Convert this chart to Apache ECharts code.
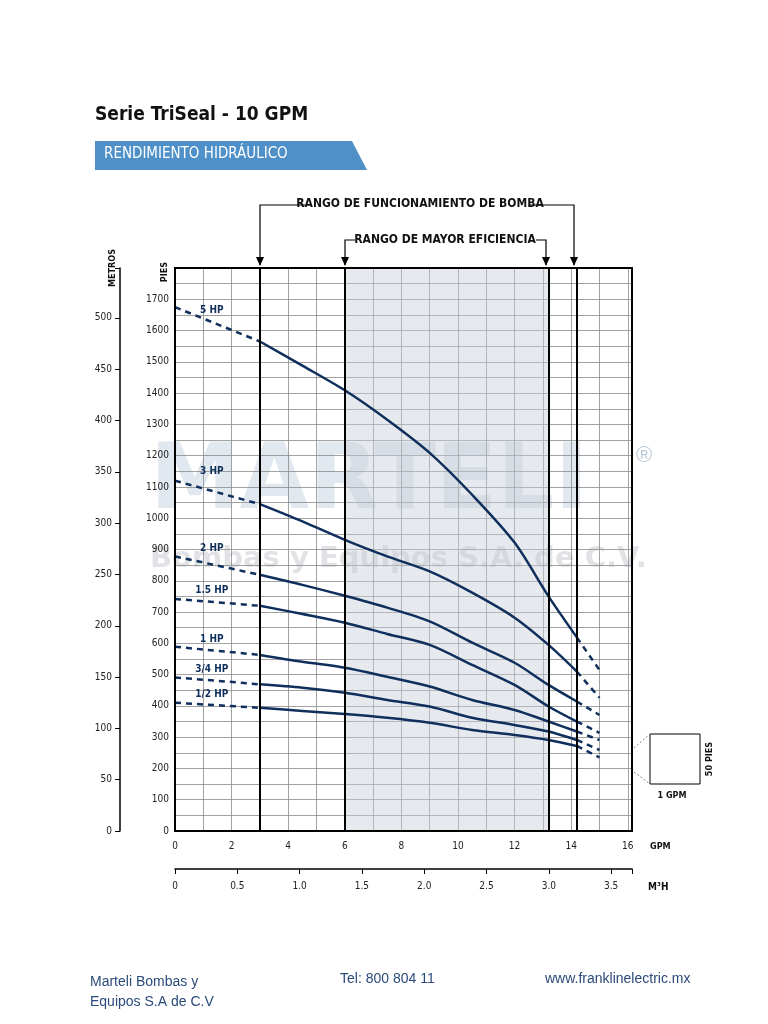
<!DOCTYPE html>
<html><head><meta charset="utf-8">
<script src="https://cdn.jsdelivr.net/npm/echarts@6/dist/echarts.min.js"></script>
<style>html,body{margin:0;background:#fff}#chart{width:768px;height:1024px}</style>
</head><body><div id="chart"></div>
<script>
var flowSolid = [3, 4.5, 6, 7.5, 9, 10.5, 12, 13.2, 14.2]
var flowDashLeft = [0, 3]
var flowDashRight = [14.2, 15]
// pies de columna por modelo
var curveNames = ['5 HP', '3 HP', '2 HP', '1.5 HP', '1 HP', '3/4 HP', '1/2 HP']
var headAt0 = [1675, 1120, 878, 742, 589, 491, 410]
var headSolid = [
  [1565, 1488, 1409, 1315, 1209, 1075, 922, 750, 619],
  [1045, 990, 931, 878, 830, 762, 682, 595, 510],
  [819, 787, 752, 714, 670, 602, 538, 467, 414],
  [720, 694, 666, 630, 595, 531, 467, 398, 350],
  [563, 541, 522, 493, 462, 419, 387, 350, 318],
  [469, 458, 442, 419, 398, 362, 339, 318, 291],
  [394, 384, 374, 362, 346, 323, 307, 291, 272]
]
var headAt15 = [515, 426, 371, 314, 291, 259, 235]
var labelY = [1640, 1125, 880, 745, 590, 492, 412]
var rangeOp = [3, 14.2]
var rangeEff = [6, 13.2]

var navy = '#0f2f5c'
var font = '"DejaVu Sans Condensed", "Liberation Sans", sans-serif'
var chart = echarts.init(document.getElementById('chart'))
var series = []
curveNames.forEach(function (name, i) {
  var solid = flowSolid.map(function (x, j) { return [x, headSolid[i][j]] })
  series.push({ type: 'line', name: name, smooth: 0.3, symbol: 'none', data: solid,
    lineStyle: { color: navy, width: 2.5 } })
  series.push({ type: 'line', symbol: 'none',
    data: [[flowDashLeft[0], headAt0[i]], [flowDashLeft[1], headSolid[i][0]]],
    lineStyle: { color: navy, width: 2.5, type: [6, 5] },
    markPoint: { symbol: 'circle', symbolSize: 1, itemStyle: { color: 'rgba(0,0,0,0)' },
      data: [{ coord: [1.3, labelY[i]], label: { show: true, formatter: name, color: navy, fontWeight: 'bold', fontSize: 10, fontFamily: font, position: 'top', distance: 2 } }] } })
  series.push({ type: 'line', symbol: 'none',
    data: [[flowDashRight[0], headSolid[i][8]], [flowDashRight[1], headAt15[i]]],
    lineStyle: { color: navy, width: 2.5, type: [6, 5] } })
})
series[0].markArea = { silent: true, itemStyle: { color: 'rgba(200,206,216,0.45)' },
  data: [[{ xAxis: rangeEff[0] }, { xAxis: rangeEff[1] }]] }
series[0].markLine = { silent: true, symbol: 'none', label: { show: false },
  lineStyle: { color: '#000', width: 2, type: 'solid' },
  data: [rangeOp[0], rangeEff[0], rangeEff[1], rangeOp[1]].map(function (v) { return { xAxis: v } }) }

var gridLine = { show: true, lineStyle: { color: '#8a8a8a', width: 0.8 } }
var axText = { color: '#222', fontSize: 10, fontFamily: font }
var option = {
  animation: false,
  grid: { left: 175, top: 268, width: 457, height: 563 },
  xAxis: [
    { type: 'value', min: 0, max: 16.15, interval: 1, splitLine: gridLine,
      axisLine: { onZero: false, lineStyle: { color: '#000', width: 1.5 } }, axisTick: { show: false },
      axisLabel: Object.assign({ margin: 10, formatter: function (v) { return v % 2 === 0 ? v : '' } }, axText) },
    { type: 'value', position: 'bottom', offset: 38, min: 0, max: 16.15 * 0.2271, interval: 0.5,
      splitLine: { show: false }, axisLine: { show: true, onZero: false, lineStyle: { color: '#000', width: 1.5 } },
      axisTick: { show: true, length: 5, lineStyle: { color: '#000' } },
      axisLabel: Object.assign({ margin: 12, formatter: function (v) { return v > 3.5 ? '' : (v === 0 ? '0' : v.toFixed(1)) } }, axText) }
  ],
  yAxis: [
    { type: 'value', min: 0, max: 1800, interval: 50, splitLine: gridLine,
      axisLine: { show: true, onZero: false, lineStyle: { color: '#000', width: 1.5 } }, axisTick: { show: false },
      axisLabel: Object.assign({ margin: 6, formatter: function (v) { return v % 100 === 0 && v < 1800 ? v : '' } }, axText) },
    { type: 'value', position: 'left', offset: 55, min: 0, max: 1800 / 3.281, interval: 50,
      splitLine: { show: false }, axisLine: { show: true, onZero: false, lineStyle: { color: '#000', width: 1.5 } },
      axisTick: { show: true, length: 5, lineStyle: { color: '#000' } },
      axisLabel: Object.assign({ margin: 8, formatter: function (v) { return v <= 500 ? v : '' } }, axText) }
  ],
  graphic: [
    { type: 'rect', silent: true, shape: { x: 175, y: 268, width: 457, height: 563 }, style: { fill: 'none', stroke: '#000', lineWidth: 2 }, z: 10 },
    { type: 'text', left: 95, top: 106, style: { text: 'Serie TriSeal - 10 GPM', font: 'bold 19px ' + font, fill: '#111' } },
    { type: 'polygon', shape: { points: [[95, 141], [352, 141], [367, 170], [95, 170]] }, style: { fill: '#4f90c8' } },
    { type: 'text', left: 104, top: 147, style: { text: 'RENDIMIENTO HIDRÁULICO', font: '15px ' + font, fill: '#fff' } },
    // watermark
    { type: 'text', left: 150, top: 440, z: 0, style: { text: 'MARTELI', font: 'bold 90px "DejaVu Sans"', fill: 'rgba(120,150,180,0.22)' } },
    { type: 'text', left: 150, top: 545, z: 0, style: { text: 'Bombas y Equipos S.A. de C.V.', font: 'bold 29px "DejaVu Sans"', fill: 'rgba(130,140,150,0.25)' } },
    { type: 'text', left: 636, top: 445, style: { text: '®', font: '22px sans-serif', fill: 'rgba(120,150,180,0.5)' } },
    // brackets
    { type: 'polyline', shape: { points: [[260, 265], [260, 205], [305, 205]] }, style: { stroke: '#000', lineWidth: 1.2, fill: null } },
    { type: 'polyline', shape: { points: [[530, 205], [574, 205], [574, 265]] }, style: { stroke: '#000', lineWidth: 1.2, fill: null } },
    { type: 'text', x: 420, y: 204, style: { text: 'RANGO DE FUNCIONAMIENTO DE BOMBA', font: 'bold 12px ' + font, fill: '#111', textAlign: 'center', textVerticalAlign: 'middle' } },
    { type: 'polyline', shape: { points: [[345, 265], [345, 240], [355, 240]] }, style: { stroke: '#000', lineWidth: 1.2, fill: null } },
    { type: 'polyline', shape: { points: [[536, 240], [546, 240], [546, 265]] }, style: { stroke: '#000', lineWidth: 1.2, fill: null } },
    { type: 'text', x: 445, y: 240, style: { text: 'RANGO DE MAYOR EFICIENCIA', font: 'bold 12px ' + font, fill: '#111', textAlign: 'center', textVerticalAlign: 'middle' } },
    { type: 'polygon', shape: { points: [[256, 257], [264, 257], [260, 266]] }, style: { fill: '#000' } },
    { type: 'polygon', shape: { points: [[341, 257], [349, 257], [345, 266]] }, style: { fill: '#000' } },
    { type: 'polygon', shape: { points: [[542, 257], [550, 257], [546, 266]] }, style: { fill: '#000' } },
    { type: 'polygon', shape: { points: [[570, 257], [578, 257], [574, 266]] }, style: { fill: '#000' } },
    // axis titles
    { type: 'text', x: 113, y: 268, rotation: Math.PI / 2, style: { text: 'METROS', font: 'bold 9px ' + font, fill: '#111', textAlign: 'center', textVerticalAlign: 'middle' } },
    { type: 'text', x: 165, y: 272, rotation: Math.PI / 2, style: { text: 'PIES', font: 'bold 9px ' + font, fill: '#111', textAlign: 'center', textVerticalAlign: 'middle' } },
    { type: 'text', x: 650, y: 847, style: { text: 'GPM', font: 'bold 9px ' + font, fill: '#111', textVerticalAlign: 'middle' } },
    { type: 'text', x: 648, y: 887, style: { text: 'M³H', font: 'bold 10px ' + font, fill: '#111', textVerticalAlign: 'middle' } },
    // scale box
    { type: 'rect', shape: { x: 650, y: 734, width: 50, height: 50 }, style: { fill: '#fff', stroke: '#000', lineWidth: 1 } },
    { type: 'line', shape: { x1: 634, y1: 748, x2: 650, y2: 734 }, style: { stroke: '#888', lineDash: [2, 2] } },
    { type: 'line', shape: { x1: 634, y1: 772, x2: 650, y2: 784 }, style: { stroke: '#888', lineDash: [2, 2] } },
    { type: 'text', x: 672, y: 796, style: { text: '1 GPM', font: 'bold 9px ' + font, fill: '#111', textAlign: 'center', textVerticalAlign: 'middle' } },
    { type: 'text', x: 710, y: 759, rotation: Math.PI / 2, style: { text: '50 PIES', font: 'bold 9px ' + font, fill: '#111', textAlign: 'center', textVerticalAlign: 'middle' } },
    // footer
    { type: 'text', left: 90, top: 972, style: { text: 'Marteli Bombas y\nEquipos S.A de C.V', font: '14px "Liberation Sans"', fill: '#2b4a7a', lineHeight: 20 } },
    { type: 'text', left: 340, top: 972, style: { text: 'Tel: 800 804 11', font: '14px "Liberation Sans"', fill: '#2b4a7a' } },
    { type: 'text', left: 545, top: 972, style: { text: 'www.franklinelectric.mx', font: '14px "Liberation Sans"', fill: '#2b4a7a' } }
  ],
  series: series
}
chart.setOption(option)
</script></body></html>
